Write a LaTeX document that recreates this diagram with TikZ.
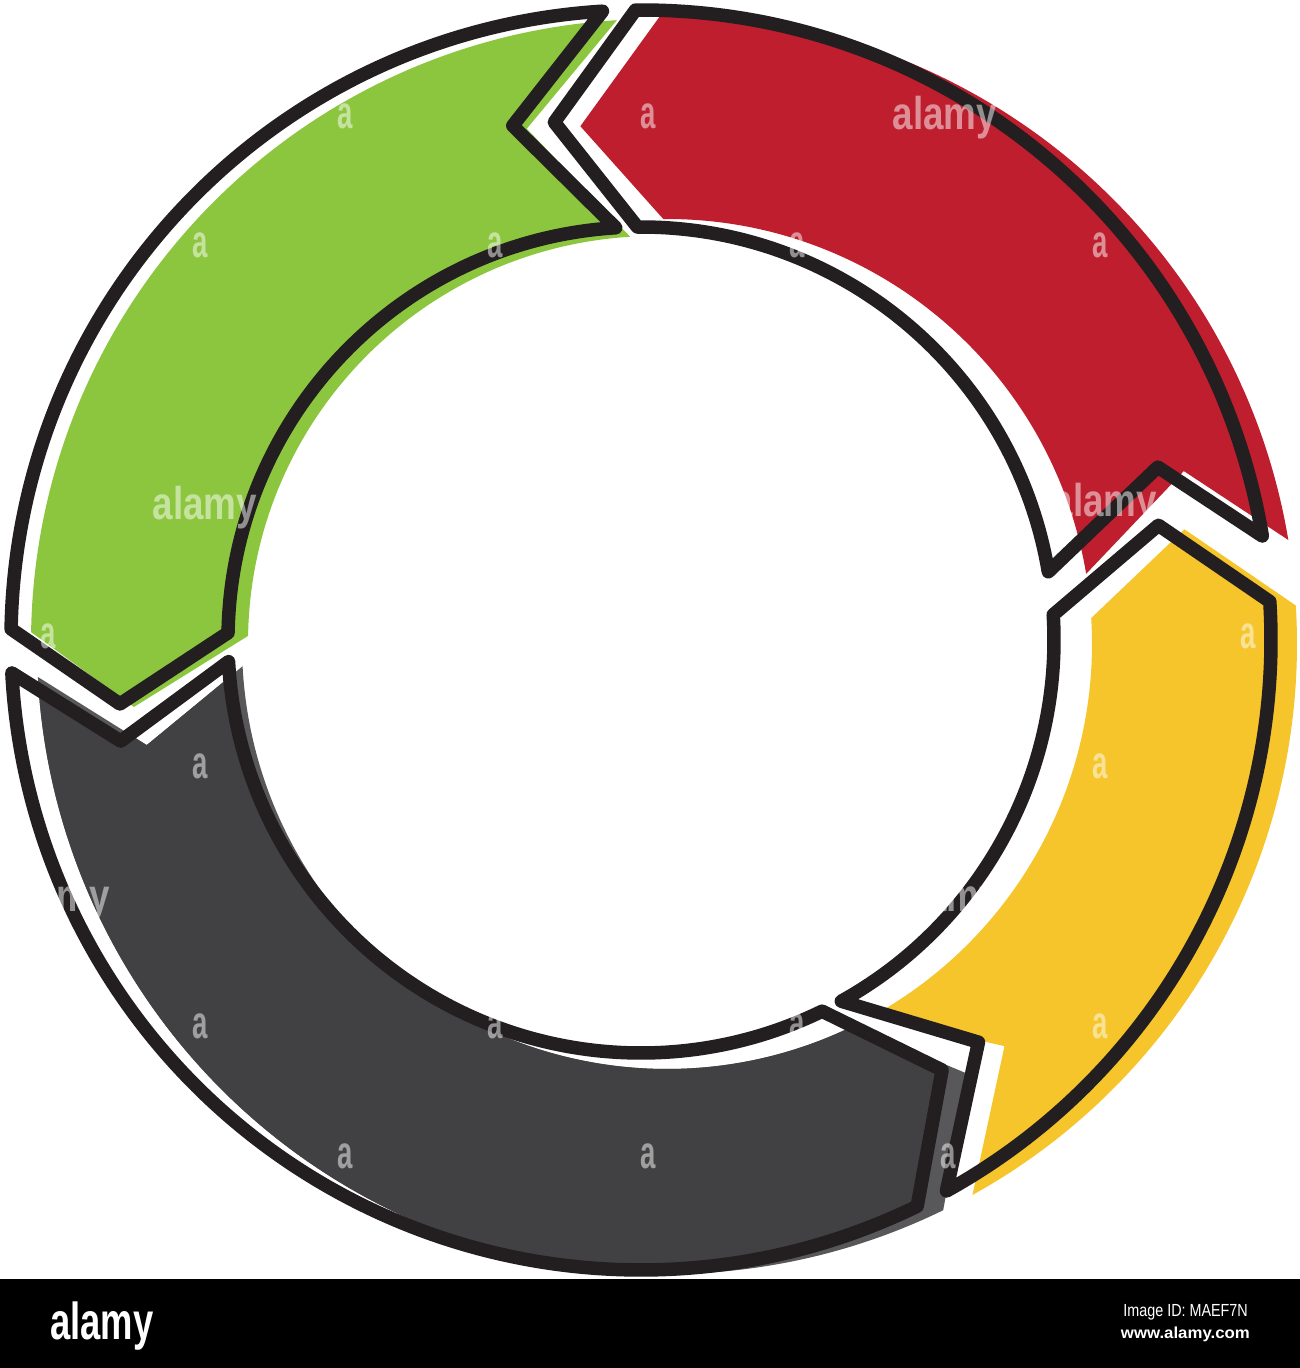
\documentclass[tikz,border=0pt]{standalone}
\usepackage{fontspec}
\setmainfont{Liberation Sans}
\usepackage{graphicx}
\definecolor{cgreen}{HTML}{8CC63F}
\definecolor{cred}{HTML}{BE1E2D}
\definecolor{cyellow}{HTML}{F5C52B}
\definecolor{cgraylt}{HTML}{58585B}
\definecolor{cgraydk}{HTML}{414042}
\definecolor{cline}{HTML}{231F20}
% #1 start angle, #2 end angle, #3 outer radius, #4 inner radius,
% #5 tail depth, #6 tail radius, #7 head depth, #8 head radius
\newcommand{\segpath}[8]{(#1:#3) arc[start angle=#1, end angle=#2, radius=#3] -- ({#2+#7}:#8) -- (#2:#4) arc[start angle=#2, end angle=#1, radius=#4] -- ({#1+#5}:#6) -- cycle}
\tikzset{
  outl/.style={draw=cline, line width=13.5, line join=round, shift={(641,728)}},
  fshift/.style={shift={(667,724)}},
  gshift/.style={shift={(655,725)}},
  wm/.style={text=white, text opacity=0.5, inner sep=0, font=\fontsize{46}{46}\selectfont\bfseries},
  bantext/.style={text=white, inner sep=0}
}
\begin{document}
\begin{tikzpicture}[x=1pt,y=1pt]
\useasboundingbox (0,0) rectangle (1300,1368);
\fill[white] (0,0) rectangle (1300,1368);
% colour fills (offset)
\fill[cgreen, gshift] \segpath{93.5}{179}{624}{407}{10.5}{530}{8}{525};
\fill[cred, fshift] \segpath{9.5}{90.5}{630}{425}{9}{545}{9}{525};
\fill[cyellow, fshift] \segpath{-61}{3.5}{630}{425}{11}{525}{9}{530};
\fill[cgraylt, fshift] \segpath{183}{296}{630}{425}{8}{530}{9}{525};
\begin{scope}
  \clip[shift={(641,728)}] \segpath{183}{296}{630}{413}{8}{530}{9}{525};
  \fill[cgraydk, fshift] \segpath{183}{296}{630}{425}{8}{530}{9}{525};
\end{scope}
% outlines
\path[outl] \segpath{93.5}{179}{630}{413}{10.5}{530}{8}{525};
\path[outl] \segpath{9.5}{90.5}{630}{413}{9}{545}{9}{525};
\path[outl] \segpath{-61}{3.5}{630}{413}{11}{525}{9}{530};
\path[outl] \segpath{183}{296}{630}{413}{8}{530}{9}{525};
% watermark
\node[wm] (wa1) at (345,1252) {\scalebox{0.6}[1]{a}};
\node[wm] (wa2) at (648,1252) {\scalebox{0.6}[1]{a}};
\node[wm] (wa3) at (200,1123) {\scalebox{0.6}[1]{a}};
\node[wm] (wa4) at (495,1123) {\scalebox{0.6}[1]{a}};
\node[wm] (wa5) at (797,1123) {\scalebox{0.6}[1]{a}};
\node[wm] (wa6) at (1100,1123) {\scalebox{0.6}[1]{a}};
\node[wm] (wa7) at (48,992) {\scalebox{0.6}[1]{a}};
\node[wm] (wa8) at (1248,992) {\scalebox{0.6}[1]{a}};
\node[wm] (wa9) at (48,732) {\scalebox{0.6}[1]{a}};
\node[wm] (wa10) at (1248,732) {\scalebox{0.6}[1]{a}};
\node[wm] (wa11) at (200,602) {\scalebox{0.6}[1]{a}};
\node[wm] (wa12) at (1100,602) {\scalebox{0.6}[1]{a}};
\node[wm] (wa13) at (200,342) {\scalebox{0.6}[1]{a}};
\node[wm] (wa14) at (495,342) {\scalebox{0.6}[1]{a}};
\node[wm] (wa15) at (797,342) {\scalebox{0.6}[1]{a}};
\node[wm] (wa16) at (1100,342) {\scalebox{0.6}[1]{a}};
\node[wm] (wa17) at (345,212) {\scalebox{0.6}[1]{a}};
\node[wm] (wa18) at (648,212) {\scalebox{0.6}[1]{a}};
\node[wm] (wa19) at (948,212) {\scalebox{0.6}[1]{a}};
\node[wm] (wl1) at (945,1250) {\scalebox{0.8}[1]{alamy}};
\node[wm] (wl2) at (205,860) {\scalebox{0.8}[1]{alamy}};
\node[wm] (wl3) at (1105,863) {\scalebox{0.8}[1]{alamy}};
\node[wm] (wl4) at (58,468) {\scalebox{0.8}[1]{alamy}};
\node[wm] (wl5) at (948,468) {\scalebox{0.8}[1]{alamy}};
% banner
\fill[black] (0,0) rectangle (1300,89);
\node[bantext, anchor=base west, font=\fontsize{52}{52}\selectfont\bfseries] (logo) at (50,28) {\scalebox{0.7}[1]{alamy}};
\node[bantext, anchor=base east, font=\fontsize{17.5}{18}\selectfont] (imgid) at (1248,51) {\scalebox{0.82}[1]{Image ID: MAEF7N}};
\node[bantext, anchor=base east, font=\fontsize{16}{18}\selectfont\bfseries] (url) at (1250,29) {\scalebox{1.05}[1]{www.alamy.com}};
\end{tikzpicture}
\end{document}
